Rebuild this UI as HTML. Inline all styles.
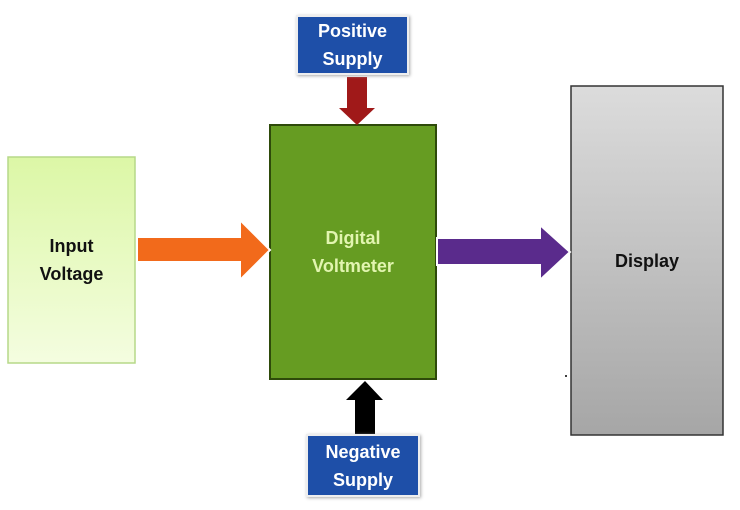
<!DOCTYPE html>
<html><head><style>
body{margin:0;width:740px;height:510px;background:#fff;overflow:hidden;font-family:"Liberation Sans",sans-serif}
.b{position:absolute;box-sizing:border-box;display:flex;align-items:center;justify-content:center;text-align:center;font-size:18px;line-height:28px;font-weight:bold}
</style></head><body>
<svg width="740" height="510" style="position:absolute;left:0;top:0">
<defs>
<linearGradient id="g1" x1="0" y1="0" x2="0" y2="1"><stop offset="0" stop-color="#dcf7a6"/><stop offset="1" stop-color="#f4fde0"/></linearGradient>
<linearGradient id="g2" x1="0" y1="0" x2="0" y2="1"><stop offset="0" stop-color="#dcdcdc"/><stop offset="1" stop-color="#a6a6a6"/></linearGradient>
</defs>
<rect x="8" y="157" width="127" height="206" fill="url(#g1)" stroke="#b6d889" stroke-width="1.5"/>
<rect x="571" y="86" width="152" height="349" fill="url(#g2)" stroke="#333" stroke-width="1.5"/>
<rect x="270" y="125" width="166" height="254" fill="#669c22" stroke="#2e4a0a" stroke-width="2"/>
<polygon points="137,237 240,237 240,220 270,250 240,280 240,262 137,262" fill="#f26a1b" stroke="#fff" stroke-width="2"/>
<polygon points="437,238 540,238 540,225 570,252 540,280 540,265 437,265" fill="#5a2b8c" stroke="#fff" stroke-width="2"/>
<polygon points="347,77 367,77 367,108 375,108 357,125 339,108 347,108" fill="#a01919"/>
<polygon points="355,436 375,436 375,400 383,400 365,381 346,400 355,400" fill="#000"/>
<circle cx="566" cy="376" r="1" fill="#000"/>
</svg>
<div class="b" style="left:8px;top:157px;width:127px;height:206px;color:#111">Input<br>Voltage</div>
<div class="b" style="left:270px;top:125px;width:166px;height:254px;color:#e2f5b0">Digital<br>Voltmeter</div>
<div class="b" style="left:571px;top:86px;width:152px;height:349px;color:#111">Display</div>
<div class="b" style="left:296px;top:15px;width:113px;height:60px;background:#1e4fa8;border:2px solid #eee;box-shadow:1px 1px 3px #aaa;color:#fff">Positive<br>Supply</div>
<div class="b" style="left:306px;top:434px;width:114px;height:63px;background:#1e4fa8;border:2px solid #eee;box-shadow:1px 1px 3px #aaa;color:#fff">Negative<br>Supply</div>
</body></html>
